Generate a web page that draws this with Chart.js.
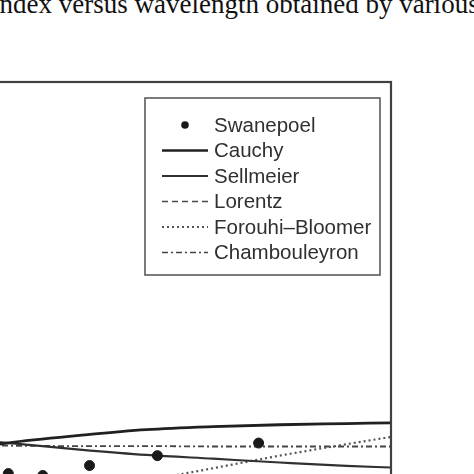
<!DOCTYPE html>
<html>
<head>
<meta charset="utf-8">
<script src="https://cdn.jsdelivr.net/npm/chart.js@4/dist/chart.umd.min.js"></script>
<style>
  html, body { margin: 0; padding: 0; background: #fff; overflow: hidden; }
  #wrap { position: relative; width: 474px; height: 474px; overflow: hidden; background: #fff; }
  #caption {
    position: absolute; left: -8px; top: -9px;
    font-family: "Liberation Serif", "DejaVu Serif", serif;
    font-size: 27px; line-height: 27px; color: #111; white-space: nowrap;
  }
  #chart { position: absolute; left: -60px; top: 0; }
</style>
</head>
<body>
<div id="wrap">
  <div id="caption">index versus wavelength obtained by various</div>
  <canvas id="chart" width="534" height="560"></canvas>
</div>
<script>
// wavelength (nm) and refractive index
const swanepoelX = [680, 835, 1045, 1350, 1805];
const swanepoelN = [2.174, 2.169, 2.195, 2.221, 2.254];

const modelX = [400, 700, 1000, 1300, 1600, 1900, 2200, 2400];
const cauchyN = [2.233, 2.256, 2.274, 2.289, 2.297, 2.302, 2.305, 2.307];
const sellmeierN = [2.268, 2.253, 2.237, 2.223, 2.213, 2.203, 2.194, 2.190];
const lorentzN = [2.020, 2.045, 2.070, 2.092, 2.110, 2.124, 2.134, 2.140];
const forouhiN = [2.052, 2.084, 2.118, 2.155, 2.188, 2.221, 2.251, 2.270];
const chambouleyronN = [2.248, 2.247, 2.246, 2.246, 2.245, 2.245, 2.245, 2.245];

const seriesNames = ["Swanepoel", "Cauchy", "Sellmeier", "Lorentz", "Forouhi\u2013Bloomer", "Chambouleyron"];

function pairs(xs, ys) {
  return xs.map((x, i) => ({ x: x, y: ys[i] }));
}

function lineSet(name, ys, color, width, dash) {
  return {
    label: name,
    data: pairs(modelX, ys),
    borderColor: color,
    borderWidth: width,
    borderDash: dash,
    pointRadius: 0,
    fill: false,
    cubicInterpolationMode: "monotone"
  };
}

const datasets = [
  {
    label: seriesNames[0],
    data: pairs(swanepoelX, swanepoelN),
    showLine: false,
    pointRadius: 5,
    pointBackgroundColor: "#1a1a1a",
    pointBorderColor: "#1a1a1a",
    borderColor: "#1a1a1a"
  },
  lineSet(seriesNames[1], cauchyN, "#202020", 2.8, []),
  lineSet(seriesNames[2], sellmeierN, "#303030", 2.2, []),
  lineSet(seriesNames[3], lorentzN, "#4a4a4a", 1.8, [6, 4]),
  lineSet(seriesNames[4], forouhiN, "#555", 2.2, [2, 3]),
  lineSet(seriesNames[5], chambouleyronN, "#444", 1.8, [6, 3, 2, 3])
];

// frame round the plot area plus the boxed legend in the upper right
const framePlugin = {
  id: "frameAndKey",
  afterDraw(chart, args, opts) {
    const ctx = chart.ctx;
    const a = chart.chartArea;
    ctx.save();
    ctx.strokeStyle = "#404040";
    ctx.lineWidth = 2.2;
    ctx.strokeRect(a.left, a.top, a.right - a.left, a.bottom - a.top);

    const bx = a.right - opts.right - opts.width;
    const by = a.top + opts.top;
    ctx.strokeStyle = "#5a5a5a";
    ctx.lineWidth = 1.6;
    ctx.strokeRect(bx, by, opts.width, opts.height);

    ctx.font = opts.font;
    ctx.textBaseline = "middle";
    chart.data.datasets.forEach((ds, i) => {
      const y = by + opts.firstRow + i * opts.rowStep;
      if (ds.showLine === false) {
        ctx.fillStyle = ds.pointBackgroundColor;
        ctx.beginPath();
        ctx.arc(bx + (opts.lineFrom + opts.lineTo) / 2, y, 3.8, 0, Math.PI * 2);
        ctx.fill();
      } else {
        ctx.strokeStyle = ds.borderColor;
        ctx.lineWidth = ds.borderWidth * 0.9;
        ctx.setLineDash(ds.borderDash);
        ctx.beginPath();
        ctx.moveTo(bx + opts.lineFrom, y);
        ctx.lineTo(bx + opts.lineTo, y);
        ctx.stroke();
        ctx.setLineDash([]);
      }
      ctx.fillStyle = "#303030";
      ctx.fillText(ds.label, bx + opts.textAt, y + 1);
    });
    ctx.restore();
  }
};

new Chart(document.getElementById("chart"), {
  type: "line",
  data: { datasets: datasets },
  options: {
    responsive: false,
    animation: false,
    layout: { padding: { left: 0, top: 82, right: 83, bottom: 20 } },
    scales: {
      x: { type: "linear", min: 400, max: 2400, display: false },
      y: { min: 2.0, max: 3.2, display: false }
    },
    plugins: {
      legend: { display: false },
      tooltip: { enabled: false },
      frameAndKey: {
        right: 11, top: 16, width: 235, height: 177,
        firstRow: 27, rowStep: 25.5,
        lineFrom: 17, lineTo: 63, textAt: 69,
        font: "20.5px 'Liberation Sans', Arial, sans-serif"
      }
    }
  },
  plugins: [framePlugin]
});
</script>
</body>
</html>
